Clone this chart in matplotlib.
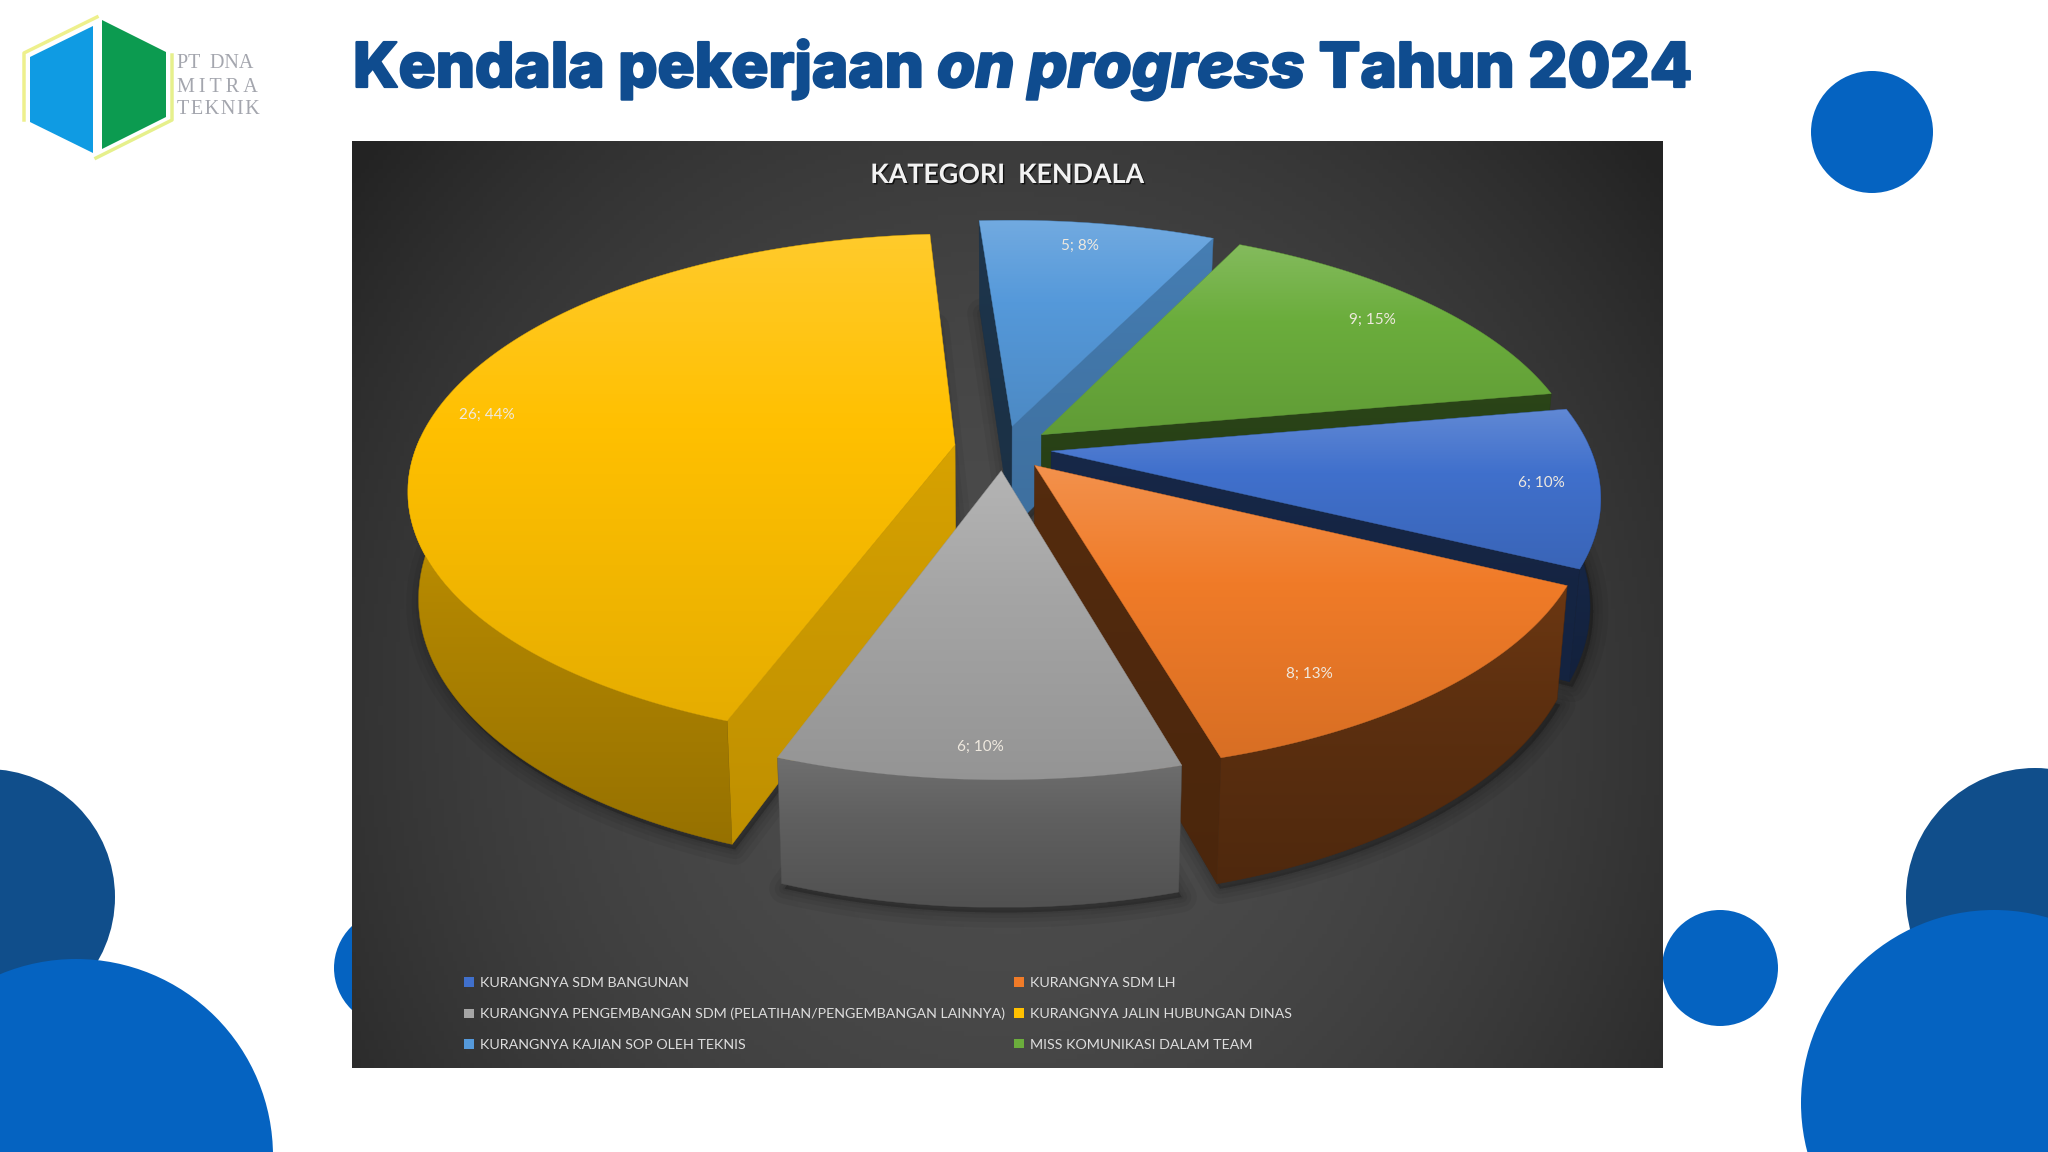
import numpy as np
import matplotlib
matplotlib.use('Agg')
import matplotlib.pyplot as plt
from matplotlib.colors import to_rgb
from matplotlib.patches import Circle, Patch, Polygon
import matplotlib.patheffects as pe

## chart data (clockwise order, same as the legend of the original)
categories = ['KURANGNYA SDM BANGUNAN', 'KURANGNYA SDM LH',
              'KURANGNYA PENGEMBANGAN SDM (PELATIHAN/PENGEMBANGAN LAINNYA)',
              'KURANGNYA JALIN HUBUNGAN DINAS', 'KURANGNYA KAJIAN SOP OLEH TEKNIS',
              'MISS KOMUNIKASI DALAM TEAM']
counts = [6, 8, 6, 26, 5, 9]
percent_labels = [10, 13, 10, 44, 8, 15]
slice_colors = ['#4070CC', '#F07B28', '#A5A5A5', '#FFC000', '#5599DA', '#6BAD3C']
wall_shades = [0.36, 0.40, 0.60, 0.72, 0.42, 0.36]
label_shift = [0, -8, 0, 0, 1, 0]   # labels that sit off the mid angle in the original
label_radius = [0.985, 0.93, 1.0, 0.99, 0.96, 0.94]

## pie projection
CX, CY = 1003, 448
RX, RY = 539, 248
PERSP = 0.17
DEPTH = 104
EXPLODE = 0.09
START = 10


def project(x, y, bottom=False):
    s = 1 / (1 + PERSP * y)
    px = CX + RX * x * s
    py = CY - RY * y * s
    if bottom:
        px = CX + (px - CX) * 0.982
        py = py + DEPTH * s
    return np.column_stack([px, py])


def shade(color, f):
    return tuple(min(1, c * f) for c in to_rgb(color))


def mix_white(color, f):
    return tuple(c + (1 - c) * f for c in to_rgb(color))


def fill_gradient(ax, poly, top, bot, z, mid=None):
    # vertical gradient clipped by the polygon
    t = np.linspace(0, 1, 128)
    if mid is None:
        mid = tuple((a + b) / 2 for a, b in zip(top, bot))
    img = np.array([np.interp(t, [0, 0.4, 1], [top[k], mid[k], bot[k]]) for k in range(3)]).T
    x0, y0 = poly.min(axis=0)
    x1, y1 = poly.max(axis=0)
    im = ax.imshow(img[:, None, :], extent=[x0, x1, y1, y0], aspect='auto', zorder=z)
    clip = Polygon(poly, closed=True, transform=ax.transData, fc='none', ec='none')
    ax.add_patch(clip)
    im.set_clip_path(clip)
    # thin edge so no gap stays between neighbouring faces
    ax.add_patch(Polygon(poly, closed=True, fc='none', ec=tuple(bot), lw=0.3, zorder=z))


fig = plt.figure(figsize=(20.48, 11.52), dpi=100, facecolor='white')
ax = fig.add_axes([0, 0, 1, 1])

## background circles
dark_blue = '#104E8B'
mid_blue = '#0563C1'
for (x, y, r, c) in [(1872, 132, 61, mid_blue), (392, 968, 58, mid_blue), (1720, 968, 58, mid_blue),
                     (-13, 897, 128, dark_blue), (2035, 897, 129, dark_blue),
                     (76, 1156, 197, mid_blue), (1994, 1103, 193, mid_blue)]:
    ax.add_patch(Circle((x, y), r, fc=c, ec='none', zorder=1))

## panel with a soft radial background
PX0, PX1, PY0, PY1 = 352, 1663, 141, 1068
yy, xx = np.mgrid[0:1:200j, 0:1:300j]
rr = ((xx - 0.5) / 0.5) ** 2 + ((yy - 0.62) / 0.75) ** 2
bg = np.clip(0.30 - 0.10 * rr, 0.14, 0.31)
ax.imshow(np.dstack([bg, bg, bg]), extent=[PX0, PX1, PY1, PY0], aspect='auto', zorder=2)

## slices
total = sum(counts)
angles = START - np.cumsum([0] + [c / total * 360 for c in counts])
slices = []
for i, c in enumerate(slice_colors):
    hi, lo = angles[i], angles[i + 1]
    mid = np.radians((hi + lo) / 2)
    ox, oy = EXPLODE * np.cos(mid), EXPLODE * np.sin(mid)
    slices.append((oy, i, hi, lo, ox))

z = 3
viewer = np.array([0, -1 / PERSP])
order = sorted(slices, key=lambda s: -s[0])

# soft shadows first
for oy, i, hi, lo, ox in order:
    th = np.radians(np.linspace(hi, lo, 80))
    xs = np.r_[ox, ox + np.cos(th)]
    ys = np.r_[oy, oy + np.sin(th)]
    sil = project(xs, ys, bottom=True) + [3, 5]
    for lw in (22, 14, 8, 3):
        ax.add_patch(Polygon(sil, closed=True, fc=(0, 0, 0, 0.05), ec=(0, 0, 0, 0.05),
                             lw=lw, joinstyle='round', zorder=2.5))

for oy, i, hi, lo, ox in order:
    color = slice_colors[i]
    apex = np.array([ox, oy])
    # cut faces, only those turned to the viewer
    for a, sign in ((hi, 90), (lo, -90)):
        n = np.array([np.cos(np.radians(a + sign)), np.sin(np.radians(a + sign))])
        if np.dot(n, viewer - apex) <= 0:
            continue
        ex, ey = ox + np.cos(np.radians(a)), oy + np.sin(np.radians(a))
        xs, ys = np.array([ox, ex]), np.array([oy, ey])
        poly = np.vstack([project(xs, ys), project(xs, ys, bottom=True)[::-1]])
        f = 0.34 + 0.48 * max(n[0] - 0.1, 0) / 0.85
        fill_gradient(ax, poly, shade(color, f * 1.04), shade(color, f * 0.92), z)
        z += 1
    # outer wall, front part of the rim only
    th = np.radians(np.linspace(hi, lo, 160))
    th = th[np.sin(th) < 0.03]
    if len(th) > 1:
        xs, ys = ox + np.cos(th), oy + np.sin(th)
        poly = np.vstack([project(xs, ys), project(xs, ys, bottom=True)[::-1]])
        f = wall_shades[i]
        fill_gradient(ax, poly, shade(color, f * 1.12), shade(color, f * 0.82), z)
        z += 1
    # top
    th = np.radians(np.linspace(hi, lo, 160))
    poly = project(np.r_[ox, ox + np.cos(th)], np.r_[oy, oy + np.sin(th)])
    fill_gradient(ax, poly, mix_white(color, 0.17), shade(color, 0.9), z, mid=shade(color, 1.0))
    z += 1

## data labels
for i, (cnt, pct) in enumerate(zip(counts, percent_labels)):
    mid = np.radians((angles[i] + angles[i + 1]) / 2 + label_shift[i])
    r = label_radius[i]
    p = project(np.array([r * np.cos(mid)]), np.array([r * np.sin(mid)]))[0]
    ax.text(p[0], p[1], '%d; %d%%' % (cnt, pct), ha='center', va='center', fontsize=11,
            family='Lato', color='#efe9df', zorder=z + 1)

ax.text(1007, 175, 'KATEGORI  KENDALA', ha='center', va='center', fontsize=19.3, family='Lato',
        weight='bold', color='#f2f2f2', zorder=z + 1,
        path_effects=[pe.withSimplePatchShadow(offset=(1, -1), shadow_rgbFace='black', alpha=0.7)])

## legend, filled by column so it reads row by row like the original
row_order = [0, 2, 4, 1, 3, 5]
handles = [Patch(fc=slice_colors[i], ec='none') for i in row_order]
leg = ax.legend(handles, [categories[i] for i in row_order], ncol=2, frameon=False,
                loc='upper left', bbox_to_anchor=(460, 973), bbox_transform=ax.transData,
                prop={'family': 'Lato', 'size': 10.25}, labelcolor='#dddddd', handlelength=0.66,
                handleheight=0.66, handletextpad=0.45, columnspacing=0.66, labelspacing=1.31,
                borderpad=0.3, borderaxespad=0)
leg.set_zorder(z + 1)

## slide title, three runs of text side by side
title_parts = [('Kendala pekerjaan', 'normal'), ('on progress', 'italic'), ('Tahun 2024', 'normal')]
fig.canvas.draw()
x = 353
for part, style in title_parts:
    t = ax.text(x, 87, part, fontsize=44.5, family='Inter', weight=800, style=style,
                color='#0F4C8F', ha='left', va='baseline', zorder=z + 1)
    t.set_path_effects([pe.withStroke(linewidth=1.6, foreground='#0F4C8F')])
    x += t.get_window_extent(fig.canvas.get_renderer()).width + 14

## logo
ax.add_patch(Polygon([(30, 57), (93, 26), (93, 153), (30, 122)], fc='#0F9BE3', ec='none', zorder=3))
ax.add_patch(Polygon([(102, 20), (166, 52), (166, 117), (102, 149)], fc='#0C9B50', ec='none', zorder=3))
ax.plot([24, 24, 97], [120, 53, 17], color='#EEF08C', lw=2.5, zorder=3)
ax.plot([96, 172, 172], [158, 120, 55], color='#E6F08C', lw=2.5, zorder=3)
for y, line in [(64, 'PT  DNA'), (87, 'M\u2009I\u2009T\u2009R\u2009A'), (110, 'T\u200aE\u200aK\u200aN\u200aI\u200aK')]:
    ax.text(177, y, line, fontsize=14.5, family='Liberation Serif', color='#A4A6AE',
            ha='left', va='center', zorder=3)

ax.set_xlim(0, 2048)
ax.set_ylim(1152, 0)
ax.axis('off')
fig.savefig('out.png', dpi=100, facecolor='white')
